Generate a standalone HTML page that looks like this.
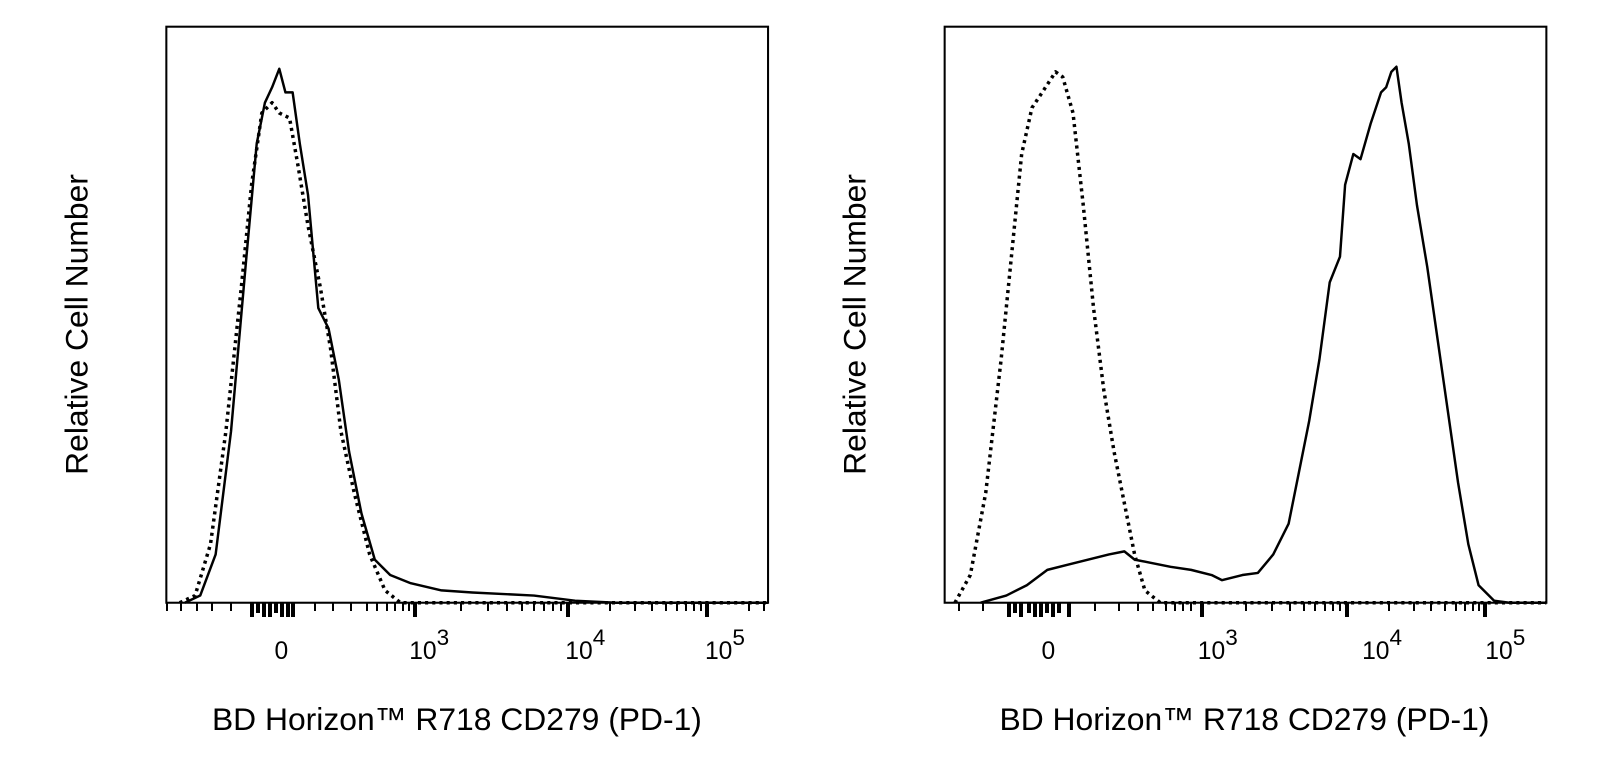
<!DOCTYPE html>
<html><head><meta charset="utf-8"><style>
body{margin:0;background:#fff}
svg text{font-family:"Liberation Sans",Arial,sans-serif;fill:#000}
</style></head><body>
<svg width="1610" height="759" viewBox="0 0 1610 759" xmlns="http://www.w3.org/2000/svg">
<g transform="scale(1.0268)">
<g fill="none" stroke="#000" stroke-width="2">
<rect x="162" y="26" width="586" height="561"/>
<rect x="920" y="26" width="586" height="561"/>
</g>
<g font-size="24" text-anchor="middle">
<text x="274" y="642">0</text>
<text x="418" y="642">10<tspan dy="-14" font-size="22">3</tspan></text>
<text x="570" y="642">10<tspan dy="-14" font-size="22">4</tspan></text>
<text x="706" y="642">10<tspan dy="-14" font-size="22">5</tspan></text>
<text x="1021" y="642">0</text>
<text x="1186" y="642">10<tspan dy="-14" font-size="22">3</tspan></text>
<text x="1346" y="642">10<tspan dy="-14" font-size="22">4</tspan></text>
<text x="1466" y="642">10<tspan dy="-14" font-size="22">5</tspan></text>
</g>
<g font-size="31" text-anchor="middle">
<text x="445" y="711">BD Horizon™ R718 CD279 (PD-1)</text>
<text x="1212" y="711">BD Horizon™ R718 CD279 (PD-1)</text>
<text transform="translate(85,316) rotate(-90)">Relative Cell Number</text>
<text transform="translate(843,316) rotate(-90)">Relative Cell Number</text>
</g>
<g fill="none" stroke="#000" stroke-width="2.4" stroke-linejoin="round">
<polyline points="180,587 195,580 210,540 225,420 240,250 250,140 258,100 265,85 272,67 278,90 285,90 292,140 300,190 310,300 320,320 330,370 340,440 352,500 365,545 380,560 400,568 430,575 460,577 520,580 560,585 600,587 748,587"/>
<polyline stroke-dasharray="3,4" stroke-width="3.4" points="175,587 190,580 205,530 220,420 235,280 245,180 255,110 265,100 272,110 282,115 290,160 300,220 312,280 322,340 332,420 345,480 360,540 375,575 390,587 748,587"/>
<polyline points="955,587 980,580 1000,570 1020,555 1040,550 1060,545 1080,540 1095,537 1105,545 1120,548 1140,552 1160,555 1180,560 1190,565 1210,560 1225,558 1240,540 1255,510 1265,460 1275,410 1285,350 1295,275 1305,250 1310,180 1318,150 1325,155 1335,120 1345,90 1350,85 1355,70 1360,65 1365,100 1372,140 1380,200 1390,260 1400,330 1410,400 1420,470 1430,530 1440,570 1455,585 1470,587 1506,587"/>
<polyline stroke-dasharray="3,4" stroke-width="3.4" points="930,587 945,560 960,480 975,350 985,250 995,150 1005,105 1015,90 1028,70 1035,75 1045,110 1055,200 1065,300 1075,380 1085,440 1095,490 1105,540 1115,575 1130,587 1506,587"/>
</g>
</g>
<g stroke="#000" stroke-width="2">
<path d="M167 603v8M181 603v8M197 603v8M212 603v8M231 603v8M315 603v8M333 603v8M351 603v8M367 603v8M377 603v8M387 603v8M395 603v8M403 603v8M409 603v8"/>
<path d="M415 603v14M568 603v14M707 603v14" stroke-width="4"/>
<path d="M461 603v8M488 603v8M507 603v8M522 603v8M534 603v8M544 603v8M553 603v8M561 603v8M610 603v8M635 603v8M652 603v8M666 603v8M677 603v8M686 603v8M694 603v8M701 603v8M749 603v8M764 603v8"/>
<path d="M252 603v14M258 603v10M264 603v14M270 603v14M276 603v10M282 603v14M288 603v14M293 603v14" stroke-width="4"/>
<path d="M959 603v8M983 603v8M1095 603v8M1119 603v8M1138 603v8M1153 603v8M1166 603v8M1175 603v8M1183 603v8M1191 603v8"/>
<path d="M1202 603v14M1347 603v14M1485 603v14" stroke-width="4"/>
<path d="M1246 603v8M1272 603v8M1290 603v8M1304 603v8M1315 603v8M1325 603v8M1333 603v8M1340 603v8M1389 603v8M1414 603v8M1431 603v8M1445 603v8M1456 603v8M1465 603v8M1473 603v8M1479 603v8"/>
<path d="M1009 603v14M1015 603v10M1021 603v14M1029 603v10M1035 603v14M1041 603v14M1047 603v10M1053 603v14M1059 603v10M1069 603v14" stroke-width="4"/>
</g>
</svg>
</body></html>
